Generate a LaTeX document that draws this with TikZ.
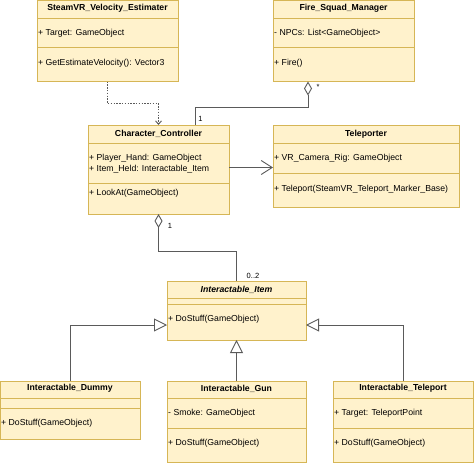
\documentclass[tikz,border=0pt]{standalone}
\usepackage{fontspec}
\setmainfont{Liberation Sans}
\usetikzlibrary{arrows.meta}
\definecolor{boxfill}{HTML}{FFF2CC}
\definecolor{boxline}{HTML}{D6B656}
\definecolor{conn}{HTML}{5A5A5A}
\tikzset{
  umlbox/.style={draw=boxline, fill=boxfill, line width=0.8pt, anchor=north west, inner sep=0pt, outer sep=0pt},
  sepline/.style={draw=boxline, line width=0.8pt},
  titletext/.style={font=\fontsize{8.7}{10}\selectfont\bfseries, inner sep=0pt},
  membertext/.style={font=\fontsize{8.7}{10}\selectfont, anchor=west, inner sep=1pt, align=left},
  multtext/.style={font=\fontsize{7.5}{9}\selectfont, inner sep=0pt},
  conline/.style={draw=conn, line width=0.9pt},
  depline/.style={conline, dash pattern=on 1.4pt off 1.4pt, -{Straight Barb[length=3.5pt,width=6pt]}},
  assocline/.style={conline, -{Straight Barb[length=11pt,width=14pt]}},
  aggline/.style={conline, {Diamond[open,fill=white,length=14pt,width=8pt]}-},
  genline/.style={conline, -{Triangle[open,fill=white,length=13pt,width=13pt]}},
}
\begin{document}
\begin{tikzpicture}[x=1pt,y=-1pt]
\useasboundingbox (0,0) rectangle (474,463);
\fill[white] (0,0) rectangle (474,463);

% ---- boxes ----
\node[umlbox, minimum width=141pt, minimum height=81pt] (sve) at (37,0.5) {};
\node[umlbox, minimum width=141pt, minimum height=81pt] (fsm) at (273,0.5) {};
\node[umlbox, minimum width=141pt, minimum height=89pt] (cc) at (88,125) {};
\node[umlbox, minimum width=186pt, minimum height=82pt] (tel) at (273,125) {};
\node[umlbox, minimum width=139pt, minimum height=59pt] (ii) at (167,281) {};
\node[umlbox, minimum width=140pt, minimum height=58pt] (dum) at (0.5,381) {};
\node[umlbox, minimum width=139pt, minimum height=81pt] (gun) at (167,381) {};
\node[umlbox, minimum width=140pt, minimum height=81pt] (tpt) at (333,381) {};

% ---- separators ----
\draw[sepline] ([yshift=-17.5pt]sve.north west) -- ([yshift=-17.5pt]sve.north east);
\draw[sepline] ([yshift=-46.5pt]sve.north west) -- ([yshift=-46.5pt]sve.north east);
\draw[sepline] ([yshift=-17.5pt]fsm.north west) -- ([yshift=-17.5pt]fsm.north east);
\draw[sepline] ([yshift=-46.5pt]fsm.north west) -- ([yshift=-46.5pt]fsm.north east);
\draw[sepline] ([yshift=-18pt]cc.north west) -- ([yshift=-18pt]cc.north east);
\draw[sepline] ([yshift=-58pt]cc.north west) -- ([yshift=-58pt]cc.north east);
\draw[sepline] ([yshift=-18pt]tel.north west) -- ([yshift=-18pt]tel.north east);
\draw[sepline] ([yshift=-48pt]tel.north west) -- ([yshift=-48pt]tel.north east);
\draw[sepline] ([yshift=-17pt]ii.north west) -- ([yshift=-17pt]ii.north east);
\draw[sepline] ([yshift=-23pt]ii.north west) -- ([yshift=-23pt]ii.north east);
\draw[sepline] ([yshift=-17pt]dum.north west) -- ([yshift=-17pt]dum.north east);
\draw[sepline] ([yshift=-27pt]dum.north west) -- ([yshift=-27pt]dum.north east);
\draw[sepline] ([yshift=-17pt]gun.north west) -- ([yshift=-17pt]gun.north east);
\draw[sepline] ([yshift=-47pt]gun.north west) -- ([yshift=-47pt]gun.north east);
\draw[sepline] ([yshift=-17pt]tpt.north west) -- ([yshift=-17pt]tpt.north east);
\draw[sepline] ([yshift=-47pt]tpt.north west) -- ([yshift=-47pt]tpt.north east);

% ---- texts ----
\node[titletext] (sve-t) at (107.5,8) {SteamVR\_Velocity\_Estimater};
\node[membertext] (sve-a) at (37,33) {+ Target: GameObject};
\node[membertext] (sve-m) at (37,63) {+ GetEstimateVelocity(): Vector3};

\node[titletext] (fsm-t) at (343.5,8) {Fire\_Squad\_Manager};
\node[membertext] (fsm-a) at (273,33) {- NPCs: List<GameObject>};
\node[membertext] (fsm-m) at (273,63) {+ Fire()};

\node[titletext] (cc-t) at (158.5,134) {Character\_Controller};
\node[membertext] (cc-a1) at (88,158) {+ Player\_Hand: GameObject};
\node[membertext] (cc-a2) at (88,169) {+ Item\_Held: Interactable\_Item};
\node[membertext] (cc-m) at (88,193) {+ LookAt(GameObject)};

\node[titletext] (tel-t) at (366,134) {Teleporter};
\node[membertext] (tel-a) at (273,158) {+ VR\_Camera\_Rig: GameObject};
\node[membertext] (tel-m) at (273,189) {+ Teleport(SteamVR\_Teleport\_Marker\_Base)};

\node[titletext, font=\fontsize{8.7}{10}\selectfont\bfseries\itshape] (ii-t) at (236.5,289.5) {Interactable\_Item};
\node[membertext] (ii-m) at (167,319.5) {+ DoStuff(GameObject)};

\node[titletext] (dum-t) at (70,388.5) {Interactable\_Dummy};
\node[membertext] (dum-m) at (0,423.5) {+ DoStuff(GameObject)};

\node[titletext] (gun-t) at (236.5,388.5) {Interactable\_Gun};
\node[membertext] (gun-a) at (167,413) {- Smoke: GameObject};
\node[membertext] (gun-m) at (167,443) {+ DoStuff(GameObject)};

\node[titletext] (tpt-t) at (403,388.5) {Interactable\_Teleport};
\node[membertext] (tpt-a) at (333,413) {+ Target: TeleportPoint};
\node[membertext] (tpt-m) at (333,443) {+ DoStuff(GameObject)};

% ---- connectors ----
\draw[depline] (sve.south) -- ++(0,22) -| (cc.north);
\draw[aggline] ([xshift=-35.5pt]fsm.south) -- ++(0,26) -| ([xshift=36.5pt]cc.north);
\draw[assocline] ([yshift=2pt]cc.east) -- ([yshift=2pt]cc.east -| tel.west);
\draw[aggline] (cc.south) -- ++(0,37) -| (ii.north);
\draw[genline] (dum.north) |- ([yshift=-14.5pt]ii.west);
\draw[genline] (gun.north) -- (ii.south);
\draw[genline] (tpt.north) |- ([yshift=-14.5pt]ii.east);

% ---- multiplicities ----
\node[multtext] (m1) at (200.5,118.5) {1};
\node[multtext] (m2) at (318,87) {*};
\node[multtext] (m3) at (170,226) {1};
\node[multtext] (m4) at (253,276) {0..2};
\end{tikzpicture}
\end{document}
